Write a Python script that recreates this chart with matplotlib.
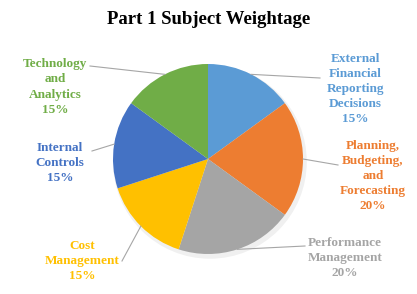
import numpy as np
import matplotlib
matplotlib.use("Agg")
import matplotlib.pyplot as plt

title = "Part 1 Subject Weightage"
categories = ["External\nFinancial\nReporting\nDecisions",
              "Planning,\nBudgeting,\nand\nForecasting",
              "Performance\nManagement",
              "Cost\nManagement",
              "Internal\nControls",
              "Technology\nand\nAnalytics"]
values = [15, 20, 20, 15, 15, 15]
colors = ["#5B9BD5", "#ED7D31", "#A5A5A5", "#FFC000", "#4472C4", "#70AD47"]

# label layout (pixel positions of text centres and leader elbows)
label_px = [(355, 89), (373, 176), (345, 258), (82, 261), (60, 163), (55, 87)]
elbow_px = [(320, 78), (338, 165), (305, 246), (122, 261), (92, 151), (90, 66)]

W, H, DPI = 417, 294, 100
CX, CY, R = 208, 159, 95

plt.rcParams['font.family'] = ['Liberation Serif', 'DejaVu Serif']
fig = plt.figure(figsize=(W / DPI, H / DPI), dpi=DPI)
ax = fig.add_axes([0, 0, 1, 1])

def px2d(p):
    return ((p[0] - CX) / R, (CY - p[1]) / R)

# faint shadow
sh = plt.Circle((0.02, -0.03), 1.02, color='#000000', alpha=0.06, lw=0)
ax.add_patch(sh)

wedges, _ = ax.pie(values, colors=colors, startangle=90, counterclock=False,
                   radius=1, center=(0, 0), frame=True,
                   wedgeprops=dict(linewidth=0))
ax.set_xlim(-CX / R, (W - CX) / R)
ax.set_ylim(-(H - CY) / R, CY / R)
ax.set_aspect('equal')
ax.axis('off')

total = sum(values)
for w, cat, v, col, lp, ep in zip(wedges, categories, values, colors, label_px, elbow_px):
    ang = np.deg2rad((w.theta1 + w.theta2) / 2)
    rim = (np.cos(ang), np.sin(ang))
    e = px2d(ep)
    ax.plot([rim[0], e[0]], [rim[1], e[1]], color='#A6A6A6', lw=0.8, zorder=1)
    t = px2d(lp)
    ax.text(t[0], t[1], f"{cat}\n{round(v / total * 100)}%", color=col,
            ha='center', va='center', fontsize=9.5, fontweight='bold',
            linespacing=1.35)

fig.text(0.5, 1 - 19 / H, title, ha='center', va='center', fontsize=13.5,
         fontweight='bold', color='black')

fig.savefig("out.png", dpi=DPI)
